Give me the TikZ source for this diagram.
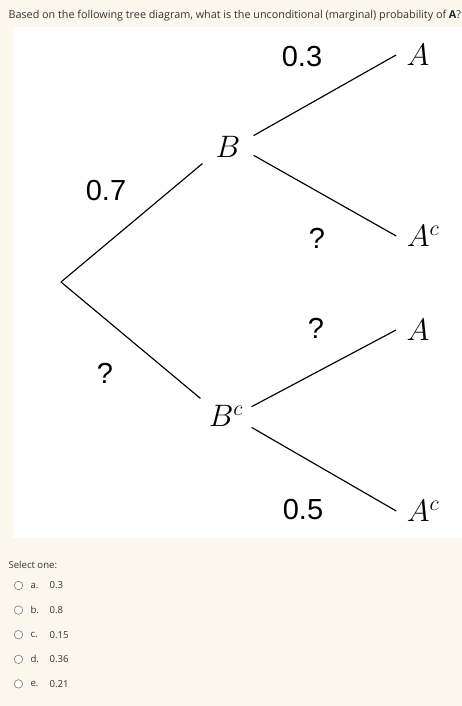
\RequirePackage{fix-cm}
\documentclass[tikz,border=0pt]{standalone}
\usepackage{fontspec}
\usepackage{tikz}
\newfontfamily\uifont{Open Sans}
\newfontfamily\numfont{Liberation Sans}
\definecolor{pagebg}{RGB}{251,247,237}
\definecolor{uitext}{RGB}{51,51,51}
\definecolor{qnavy}{RGB}{28,36,58}
\definecolor{radioline}{RGB}{120,120,120}
\tikzset{branch/.style={inner sep=0pt,minimum width=50pt,minimum height=32pt,font=\fontsize{31}{37}\selectfont}}
\tikzset{leaf/.style={inner xsep=10pt,inner ysep=0pt,font=\fontsize{31}{37}\selectfont}}
\tikzset{prob/.style={inner sep=0pt,font=\numfont\fontsize{29}{34}\selectfont}}
\tikzset{uitxt/.style={inner sep=0pt,anchor=base west,text=uitext,font=\uifont\fontsize{9.6}{11}\selectfont}}

\begin{document}
\begin{tikzpicture}[
		x = 1pt, y = -1pt, % pixel grid, origin top left
		line width = 1.15pt, % tree line style
		]
		
		% page and white panel
		\fill[pagebg] (0,0) rectangle (462,706);
		\useasboundingbox (0,0) rectangle (462,706);
		\fill[white] (13,27) rectangle (462,538);
		
		\node[uitxt, font=\uifont\fontsize{10.8}{12}\selectfont] (question) at (8,18.5)
		{Based on the following tree diagram, what is the unconditional (marginal) probability of \textcolor{qnavy}{\bfseries A}?};
		
		\coordinate (root) at (61,282);
		\node[branch] (B) at (228,147) {$B$};
		\node[branch, minimum height=34pt] (Bc) at (226,416) {$B^c$};
		\node[leaf] (A1) at (418,55) {$A$};
		\node[leaf] (Ac1) at (423,236) {$A^c$};
		\node[leaf] (A2) at (418,330) {$A$};
		\node[leaf] (Ac2) at (423,511) {$A^c$};
		
		% First stage
		\path (root) edge (B.south west);
		\path (root) edge (Bc.north west);
		
		% Second stage
		\path (B.24) edge (A1.west);
		\path (B.-18) edge (Ac1.west);
		\path (Bc.20) edge (A2.west);
		\path (Bc.-24) edge (Ac2.west);
		
		% Probabilities
		\node[prob] (pB) at (106,191) {0.7};
		\node[prob] (pBc) at (105,373) {?};
		\node[prob] (pAB) at (302,57) {0.3};
		\node[prob] (pAcB) at (317,238) {?};
		\node[prob] (pABc) at (316,328) {?};
		\node[prob] (pAcBc) at (303,510) {0.5};
		
		% Answers
		\node[uitxt] (select) at (8,568) {Select one:};
		\foreach \lab/\val [count=\i from 0] in {a./0.3, b./0.8, c./0.15, d./0.36, e./0.21}{
			\node[circle, draw=radioline, fill=white, line width=0.6pt, minimum size=8.5pt, inner sep=0pt] (rad\i) at (18.5,585.5+24.6*\i) {};
			\node[uitxt, anchor=west] (let\i) at (30,585.5+24.6*\i) {\lab};
			\node[uitxt, anchor=west] (val\i) at (49,585.5+24.6*\i) {\val};
		}
\end{tikzpicture}
\end{document}
